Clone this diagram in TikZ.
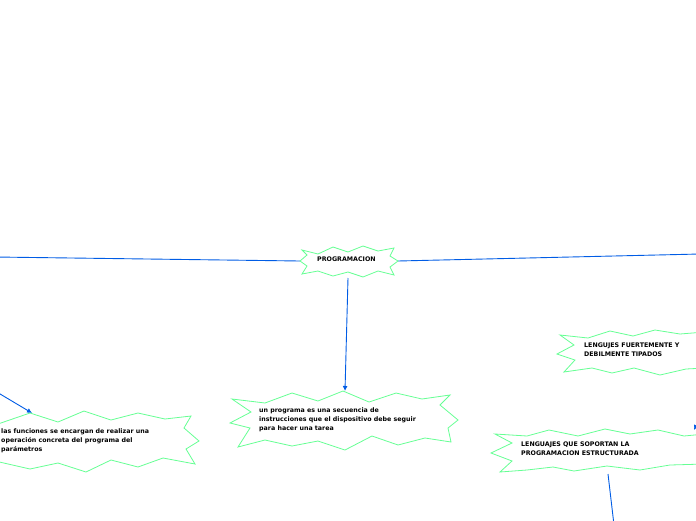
\documentclass[tikz,border=0pt]{standalone}
\usepackage{fontspec}
\setmainfont{DejaVu Sans}
\begin{document}
\begin{tikzpicture}[x=1pt,y=-1pt,
  zz/.style={draw=green!70!cyan!60!white, line width=0.8pt, fill=white, line join=miter},
  lab/.style={font=\bfseries\fontsize{6.3}{9}\selectfont, align=left, anchor=north west, inner sep=0pt, text=black},
  con/.style={draw=blue!60!cyan!90!black, line width=0.9pt},
  arr/.style={con, -{Latex[length=5pt,width=5pt]}}]
\usetikzlibrary{arrows.meta}
\useasboundingbox (0,0) rectangle (696,520);
\clip (0,0) rectangle (696,520);
% connectors
\coordinate (L) at (-5,257);
\coordinate (R) at (700,254);
\coordinate (Lf) at (-10,388);
\coordinate (Rf) at (702,414);
\coordinate (Bf) at (614,525);
\coordinate (p1) at (300,261);
\coordinate (p2) at (398,261);
\coordinate (p3) at (348,278);
\coordinate (b2) at (345,391);
\coordinate (b3) at (32,413);
\coordinate (b4) at (694,430);
\coordinate (b5) at (608,474);
\draw[con] (L) -- (p1);
\draw[con] (p2) -- (R);
\draw[arr] (p3) -- (b2);
\draw[arr] (Lf) -- (b3);
\draw[arr] (Rf) -- (b4);
\draw[con] (b5) -- (Bf);
% PROGRAMACION
\path[zz] (302,250)--(318,254)--(333,247)--(348,252)--(363,246)--(378,251)--(394,248)--(390,256)--(398,261)--(390,267)--(394,275)--(378,271)--(363,277)--(348,272)--(333,276)--(318,271)--(302,274)--(307,266)--(300,261)--(307,255)--cycle;
\node[lab] (t1) at (317,257) {PROGRAMACION};
% programa
\path[zz] (232,399)--(265,403)--(292,393)--(318,401)--(343,391)--(369,402)--(396,393)--(422,399)--(450,395)--(440,405)--(458,420)--(448,428)--(451,442)--(425,438)--(398,445)--(372,436)--(345,450)--(318,441)--(292,446)--(265,440)--(238,447)--(250,428)--(230,423)--(251,412)--cycle;
\node[lab] (t2) at (259,408) {un programa es una secuencia de\\instrucciones que el dispositivo debe seguir\\para hacer una tarea};
% funciones
\path[zz] (-5,425)--(30,413)--(58,422)--(84,411)--(111,420)--(138,413)--(165,419)--(191,416)--(184,428)--(199,441)--(186,449)--(195,464)--(163,458)--(138,467)--(111,460)--(86,472)--(58,463)--(30,469)--(-5,461)--cycle;
\node[lab] (t3) at (1,429) {las funciones se encargan de realizar una\\operación concreta del programa del\\parámetros};
% tipados
\path[zz] (560,335)--(588,338)--(610,331)--(633,336)--(655,330)--(680,334)--(705,332)--(705,368)--(686,369)--(660,375)--(634,368)--(612,373)--(592,368)--(564,372)--(575,360)--(557,354)--(574,345)--cycle;
\node[lab] (t4) at (584,343) {LENGUJES FUERTEMENTE Y\\DEBILMENTE TIPADOS};
% estructurada
\path[zz] (495,434)--(527,436)--(549,430)--(578,436)--(605,429)--(630,434)--(658,430)--(684,436)--(705,434)--(705,464)--(670,465)--(640,470)--(607,466)--(574,471)--(553,467)--(527,470)--(500,472)--(512,461)--(491,453)--(512,443)--cycle;
\node[lab] (t5) at (521,442) {LENGUAJES QUE SOPORTAN LA\\PROGRAMACION ESTRUCTURADA};
\end{tikzpicture}
\end{document}
